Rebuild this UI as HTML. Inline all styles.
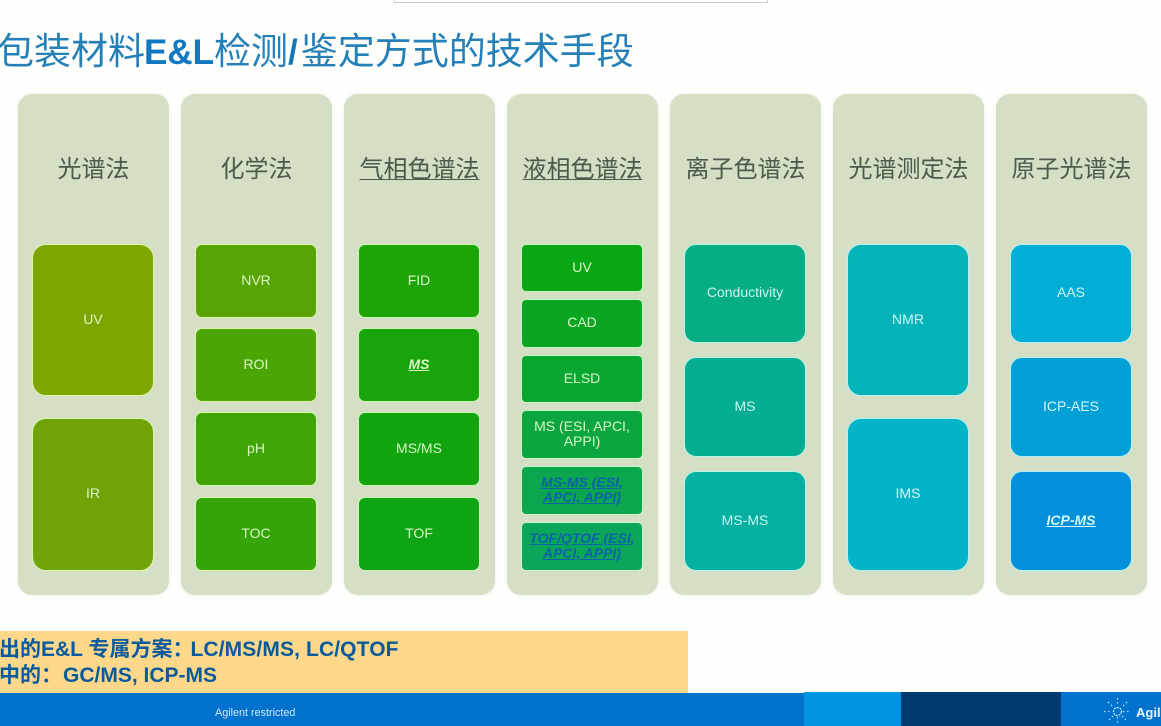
<!DOCTYPE html>
<html>
<head>
<meta charset="utf-8">
<style>
html,body{margin:0;padding:0;width:1161px;height:726px;overflow:hidden;background:#fefefd}
body{position:relative;font-family:"Liberation Sans","Noto Sans CJK SC",sans-serif}
div{position:absolute;box-sizing:border-box}
.col{top:94px;height:501px;width:151px;background:#d5dfc6;border-radius:14px;box-shadow:0 0 4px #eef2e8}
.h{top:153px;width:151px;height:34px;line-height:34px;text-align:center;font-size:24px;color:#4c5a4c;white-space:nowrap}
.h span{text-decoration:underline;text-decoration-thickness:1px;text-underline-offset:2px}
.b{display:flex;align-items:center;justify-content:center;text-align:center;width:122px;font-size:14px;line-height:15px;border:1.5px solid #d8f8a8;border-radius:7px;color:#d8f8c8;padding:0 4px 2px}
.r{border-radius:14px}
.m{border-radius:12px}
.s{border-radius:5px;border-color:#c8f8c0}
.t{border-color:#b5f5e5;color:#c8f8ee}
.c{border-color:#b0f2f5;color:#d0f8fa}
.i{font-weight:bold;font-style:italic;text-decoration:underline}
.l{color:#0b63a8;font-weight:bold;font-style:italic;text-decoration:underline}
</style>
</head>
<body>
<div style="left:394px;top:-2px;width:374px;height:5px;border:1px solid #ccc;background:#fff"></div>
<div style="left:-3px;top:30px;height:44px;line-height:44px;font-size:37px;color:#2580b8;white-space:nowrap">包装材料<b style="color:#0f78c0;font-size:35px;margin:0 0 0 -1px">E&amp;L</b>检测<span style="color:#1478b8;font-size:35px;font-weight:bold;font-family:'Liberation Sans',sans-serif;margin-right:3px">/</span>鉴定方式的技术手段</div>

<div class="col" style="left:18px"></div>
<div class="col" style="left:181px"></div>
<div class="col" style="left:344px"></div>
<div class="col" style="left:507px"></div>
<div class="col" style="left:670px"></div>
<div class="col" style="left:833px"></div>
<div class="col" style="left:996px"></div>

<div class="h" style="left:18px">光谱法</div>
<div class="h" style="left:181px">化学法</div>
<div class="h" style="left:344px"><span>气相色谱法</span></div>
<div class="h" style="left:507px"><span>液相色谱法</span></div>
<div class="h" style="left:670px">离子色谱法</div>
<div class="h" style="left:833px">光谱测定法</div>
<div class="h" style="left:996px">原子光谱法</div>

<div class="b r" style="left:32px;top:244px;height:152px;background:#7fa500">UV</div>
<div class="b r" style="left:32px;top:418px;height:153px;background:#6fa308">IR</div>

<div class="b" style="left:195px;top:244px;height:74px;background:#57a404">NVR</div>
<div class="b" style="left:195px;top:328px;height:74px;background:#4ca406">ROI</div>
<div class="b" style="left:195px;top:412px;height:74px;background:#40a406">pH</div>
<div class="b" style="left:195px;top:497px;height:74px;background:#34a408">TOC</div>

<div class="b" style="left:358px;top:244px;height:74px;background:#1ea406;border-color:#c8f8b0">FID</div>
<div class="b i" style="left:358px;top:328px;height:74px;background:#18a40a;border-color:#c8f8b0">MS</div>
<div class="b" style="left:358px;top:412px;height:74px;background:#12a40e;border-color:#c8f8b0">MS/MS</div>
<div class="b" style="left:358px;top:497px;height:74px;background:#0ea414;border-color:#c8f8b0">TOF</div>

<div class="b s" style="left:521px;top:244px;height:48px;background:#0aa714">UV</div>
<div class="b s" style="left:521px;top:299px;height:49px;background:#0aa622">CAD</div>
<div class="b s" style="left:521px;top:355px;height:48px;background:#0ba632">ELSD</div>
<div class="b s" style="left:521px;top:410px;height:49px;background:#0ba640">MS (ESI, APCI, APPI)</div>
<div class="b s l" style="left:521px;top:466px;height:49px;background:#0ba64e;padding:0 0 2px;color:#0b63a8">MS-MS (ESI,<br>APCI, APPI)</div>
<div class="b s l" style="left:521px;top:522px;height:49px;background:#0ba65a;padding:0 0 2px;color:#0b63a8">TOF/QTOF (ESI,<br>APCI, APPI)</div>

<div class="b t m" style="left:684px;top:244px;height:99px;background:#06ad85">Conductivity</div>
<div class="b t m" style="left:684px;top:357px;height:100px;background:#05ae92">MS</div>
<div class="b t m" style="left:684px;top:471px;height:100px;background:#04b0a2">MS-MS</div>

<div class="b c r" style="left:847px;top:244px;height:152px;background:#03b3b8">NMR</div>
<div class="b c r" style="left:847px;top:418px;height:153px;background:#03b4c8">IMS</div>

<div class="b c m" style="left:1010px;top:244px;height:99px;background:#03aed6">AAS</div>
<div class="b c m" style="left:1010px;top:357px;height:100px;background:#03a0d8">ICP-AES</div>
<div class="b c m i" style="left:1010px;top:471px;height:100px;background:#0390da">ICP-MS</div>

<div style="left:0;top:631px;width:688px;height:63px;background:#fdd78a"></div>
<div style="left:-1px;top:638px;font-size:21px;line-height:24px;font-weight:bold;color:#0b5a9c;white-space:nowrap">出的E&amp;L 专属方案：<span style="margin-left:-3px;letter-spacing:.12px">LC/MS/MS, LC/QTOF</span></div>
<div style="left:-1px;top:664px;font-size:21px;line-height:24px;font-weight:bold;color:#0b5a9c;white-space:nowrap">中的：</div>
<div style="left:63px;top:664px;font-size:21px;line-height:24px;font-weight:bold;color:#0b5a9c;white-space:nowrap">GC/MS, ICP-MS</div>

<div style="left:0;top:693px;width:1161px;height:33px;background:#0072cd"></div>
<div style="left:804px;top:692px;width:97px;height:34px;background:#0094e2"></div>
<div style="left:901px;top:692px;width:160px;height:34px;background:#003b6f"></div>
<div style="left:1061px;top:692px;width:100px;height:34px;background:#0072cd"></div>
<div style="left:215px;top:706px;font-size:10.8px;line-height:14px;color:#d5e8f8;white-space:nowrap">Agilent restricted</div>

<svg style="position:absolute;left:1103px;top:697px" width="29" height="29" viewBox="0 0 29 29">
<g stroke="#a8e0f8" stroke-width="1.3" stroke-dasharray="1.5 2.5" fill="none">
<path d="M14.5 1V9M14.5 20V28M1 14.5H9M20 14.5H28M5 5L10 10M19 19L24 24M24 5L19 10M10 19L5 24"/>
</g>
<circle cx="14.5" cy="14.5" r="4" fill="none" stroke="#c0ecfb" stroke-width="1.3" stroke-dasharray="2 1"/>
</svg>
<div style="left:1136px;top:704px;font-size:13px;line-height:18px;font-weight:bold;color:#e8f5ff;white-space:nowrap">Agilent</div>
</body>
</html>
